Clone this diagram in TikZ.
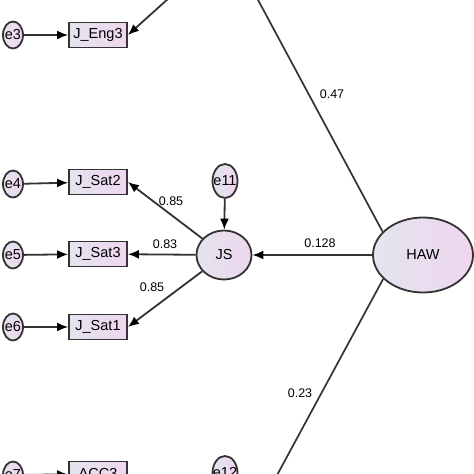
\documentclass[tikz,border=0pt]{standalone}
\usepackage{fontspec}
\setmainfont{Liberation Sans}
\usetikzlibrary{arrows.meta,shapes.geometric}
\definecolor{nodeleft}{HTML}{E3E4EE}
\definecolor{noderight}{HTML}{EFD6EF}
\definecolor{edgegray}{HTML}{333333}
\tikzset{mydraw/.style={edgegray,line width=1.8pt,-{Latex[length=11pt,width=9pt,black]}}}
\tikzset{myline/.style={edgegray,line width=1.7pt}}
\tikzset{obsbox/.style={draw=edgegray,line width=1.8pt,left color=nodeleft,right color=noderight,
  minimum width=58pt,minimum height=25pt,inner sep=0pt,font=\fontsize{14.5}{15}\selectfont}}
\tikzset{errnode/.style={ellipse,draw=edgegray,line width=1.8pt,left color=nodeleft,right color=noderight,
  minimum width=20pt,minimum height=27pt,inner sep=0pt,font=\fontsize{14.5}{15}\selectfont}}
\tikzset{latnode/.style={ellipse,draw=edgegray,line width=1.8pt,left color=nodeleft,right color=noderight,
  inner sep=0pt,font=\fontsize{14.5}{15}\selectfont}}
\tikzset{elabel/.style={inner sep=0pt,font=\fontsize{12.5}{13}\selectfont}}
\newcommand{\etext}[1]{\makebox[0pt]{#1}}

\begin{document}
\begin{tikzpicture}[x=1pt,y=-1pt]
	\useasboundingbox (0,0) rectangle (474,474);
	\clip (0,0) rectangle (474,474);

	% latent variables
	\node[latnode,minimum width=100pt,minimum height=75pt] (haw) at (423,255) {HAW};
	\node[latnode,minimum width=55pt,minimum height=49pt] (js) at (224,255) {JS};

	% observed variables
	\node[obsbox] (jeng3) at (98,35) {J\_Eng3};
	\node[obsbox] (jsat2) at (98,182) {J\_Sat2};
	\node[obsbox] (jsat3) at (98,254) {J\_Sat3};
	\node[obsbox] (jsat1) at (98,327) {J\_Sat1};
	\node[obsbox] (acc3) at (98,474) {ACC3};

	% error terms
	\node[errnode] (e3) at (13,35) {\etext{e3}};
	\node[errnode] (e4) at (13,184) {\etext{e4}};
	\node[errnode] (e5) at (13,255) {\etext{e5}};
	\node[errnode] (e6) at (13,327) {\etext{e6}};
	\node[errnode] (e7) at (13,475) {\etext{e7}};
	\node[errnode,minimum width=25pt,minimum height=34pt] (e11) at (225,181) {\etext{e11}};
	\node[errnode,minimum width=25pt,minimum height=34pt] (e12) at (225,473) {\etext{e12}};

	% ends outside the frame
	\coordinate (engtop) at (189,-20);
	\coordinate (hawup) at (250,-15);
	\coordinate (hawdown) at (269,490);

	\foreach \e/\b in {e3/jeng3,e4/jsat2,e5/jsat3,e6/jsat1,e7/acc3}
		\draw[mydraw] (\e) -- (\b);

	\draw[mydraw] (engtop) -- (jeng3.east);
	\draw[mydraw] (e11) -- (js);
	\draw[mydraw] (js) -- (jsat2.east);
	\draw[mydraw] (js) -- (jsat3);
	\draw[mydraw] (js) -- (jsat1.east);
	\draw[mydraw] (haw) -- (js);
	\draw[myline] (haw.150) -- (hawup);
	\draw[myline] (haw.211) -- (hawdown);

	% path coefficients
	\node[elabel] (l1) at (171,201) {0.85};
	\node[elabel] (l2) at (165,244) {0.83};
	\node[elabel] (l3) at (152,287) {0.85};
	\node[elabel] (l4) at (320,243) {0.128};
	\node[elabel] (l5) at (332,94) {0.47};
	\node[elabel] (l6) at (300,393) {0.23};
\end{tikzpicture}
\end{document}
